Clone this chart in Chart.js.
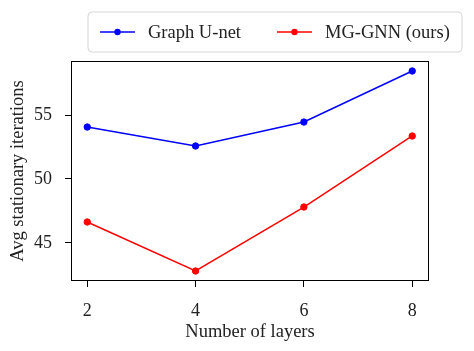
<!DOCTYPE html>
<html>
<head>
<meta charset="utf-8">
<script src="https://cdn.jsdelivr.net/npm/chart.js@4.4.0/dist/chart.umd.min.js"></script>
<style>
  html, body { margin: 0; padding: 0; background: #fff; }
  #wrap { width: 474px; height: 351px; }
</style>
</head>
<body>
<div id="wrap"><canvas id="chart" width="474" height="351"></canvas></div>
<script>
const layers = [2, 4, 6, 8];
const unetIters = [54.06, 52.58, 54.45, 58.44];
const mgIters = [46.64, 42.81, 47.81, 53.36];
const xTicks = [2, 4, 6, 8];
const yTicks = [45, 50, 55];
const seriesNames = ['Graph U-net', 'MG-GNN (ours)'];

const FONT = 'Liberation Serif';

const frameAndLegend = {
    id: 'frameAndLegend',
    afterDraw(chart) {
        const ctx = chart.ctx;
        const a = chart.chartArea;
        ctx.save();
        ctx.strokeStyle = '#000';
        ctx.lineWidth = 1;
        ctx.strokeRect(a.left + 0.5, a.top + 0.5, a.right - a.left - 1, a.bottom - a.top - 1);

        // legend box
        const bx = 88, by = 12, bw = 374, bh = 40, r = 4;
        ctx.beginPath();
        ctx.moveTo(bx + r, by);
        ctx.arcTo(bx + bw, by, bx + bw, by + bh, r);
        ctx.arcTo(bx + bw, by + bh, bx, by + bh, r);
        ctx.arcTo(bx, by + bh, bx, by, r);
        ctx.arcTo(bx, by, bx + bw, by, r);
        ctx.closePath();
        ctx.fillStyle = 'rgba(255,255,255,0.8)';
        ctx.fill();
        ctx.strokeStyle = '#d6d6d6';
        ctx.lineWidth = 1;
        ctx.stroke();

        const starts = [100, 277];
        chart.data.datasets.forEach((ds, i) => {
            const x0 = starts[i], y = 32;
            ctx.strokeStyle = ds.borderColor;
            ctx.lineWidth = 1.5;
            ctx.beginPath();
            ctx.moveTo(x0, y);
            ctx.lineTo(x0 + 35, y);
            ctx.stroke();
            ctx.beginPath();
            ctx.arc(x0 + 17.5, y, 3.2, 0, Math.PI * 2);
            ctx.fillStyle = ds.backgroundColor;
            ctx.fill();
            ctx.fillStyle = '#222';
            ctx.font = '18.5px "' + FONT + '"';
            ctx.textBaseline = 'middle';
            ctx.textAlign = 'left';
            ctx.fillText(ds.label, x0 + 48, y + 1);
        });
        ctx.restore();
    }
};

new Chart(document.getElementById('chart'), {
    type: 'line',
    data: {
        datasets: [{
            label: seriesNames[0],
            data: layers.map((x, i) => ({ x: x, y: unetIters[i] })),
            borderColor: '#0000ff',
            backgroundColor: '#0000ff',
            borderWidth: 1.5,
            pointRadius: 3.2,
            pointBorderWidth: 1,
            tension: 0
        }, {
            label: seriesNames[1],
            data: layers.map((x, i) => ({ x: x, y: mgIters[i] })),
            borderColor: '#ff0000',
            backgroundColor: '#ff0000',
            borderWidth: 1.5,
            pointRadius: 3.2,
            pointBorderWidth: 1,
            tension: 0
        }]
    },
    options: {
        responsive: false,
        animation: false,
        layout: { padding: { top: 61, right: 45, left: 0, bottom: 0 } },
        plugins: { legend: { display: false }, tooltip: { enabled: false } },
        scales: {
            x: {
                type: 'linear',
                min: 1.7,
                max: 8.31,
                afterBuildTicks: s => { s.ticks = xTicks.map(v => ({ value: v })); },
                afterFit: s => { s.height = 70; },
                grid: { drawOnChartArea: false, tickLength: 6, color: '#000', tickWidth: 1 },
                border: { display: false },
                ticks: { color: '#222', font: { family: FONT, size: 18 }, padding: 13, maxRotation: 0 },
                title: { display: true, text: 'Number of layers', color: '#222', font: { family: FONT, size: 18.5 }, padding: { top: 0, bottom: 8 } }
            },
            y: {
                min: 42.03,
                max: 59.22,
                afterBuildTicks: s => { s.ticks = yTicks.map(v => ({ value: v })); },
                afterFit: s => { s.width = 71; },
                grid: { drawOnChartArea: false, tickLength: 6, color: '#000', tickWidth: 1 },
                border: { display: false },
                ticks: { color: '#222', font: { family: FONT, size: 18 }, padding: 13 },
                title: { display: true, text: 'Avg stationary iterations', color: '#222', font: { family: FONT, size: 18.5 }, padding: { top: 7, bottom: 0 } }
            }
        }
    },
    plugins: [frameAndLegend]
});
</script>
</body>
</html>
